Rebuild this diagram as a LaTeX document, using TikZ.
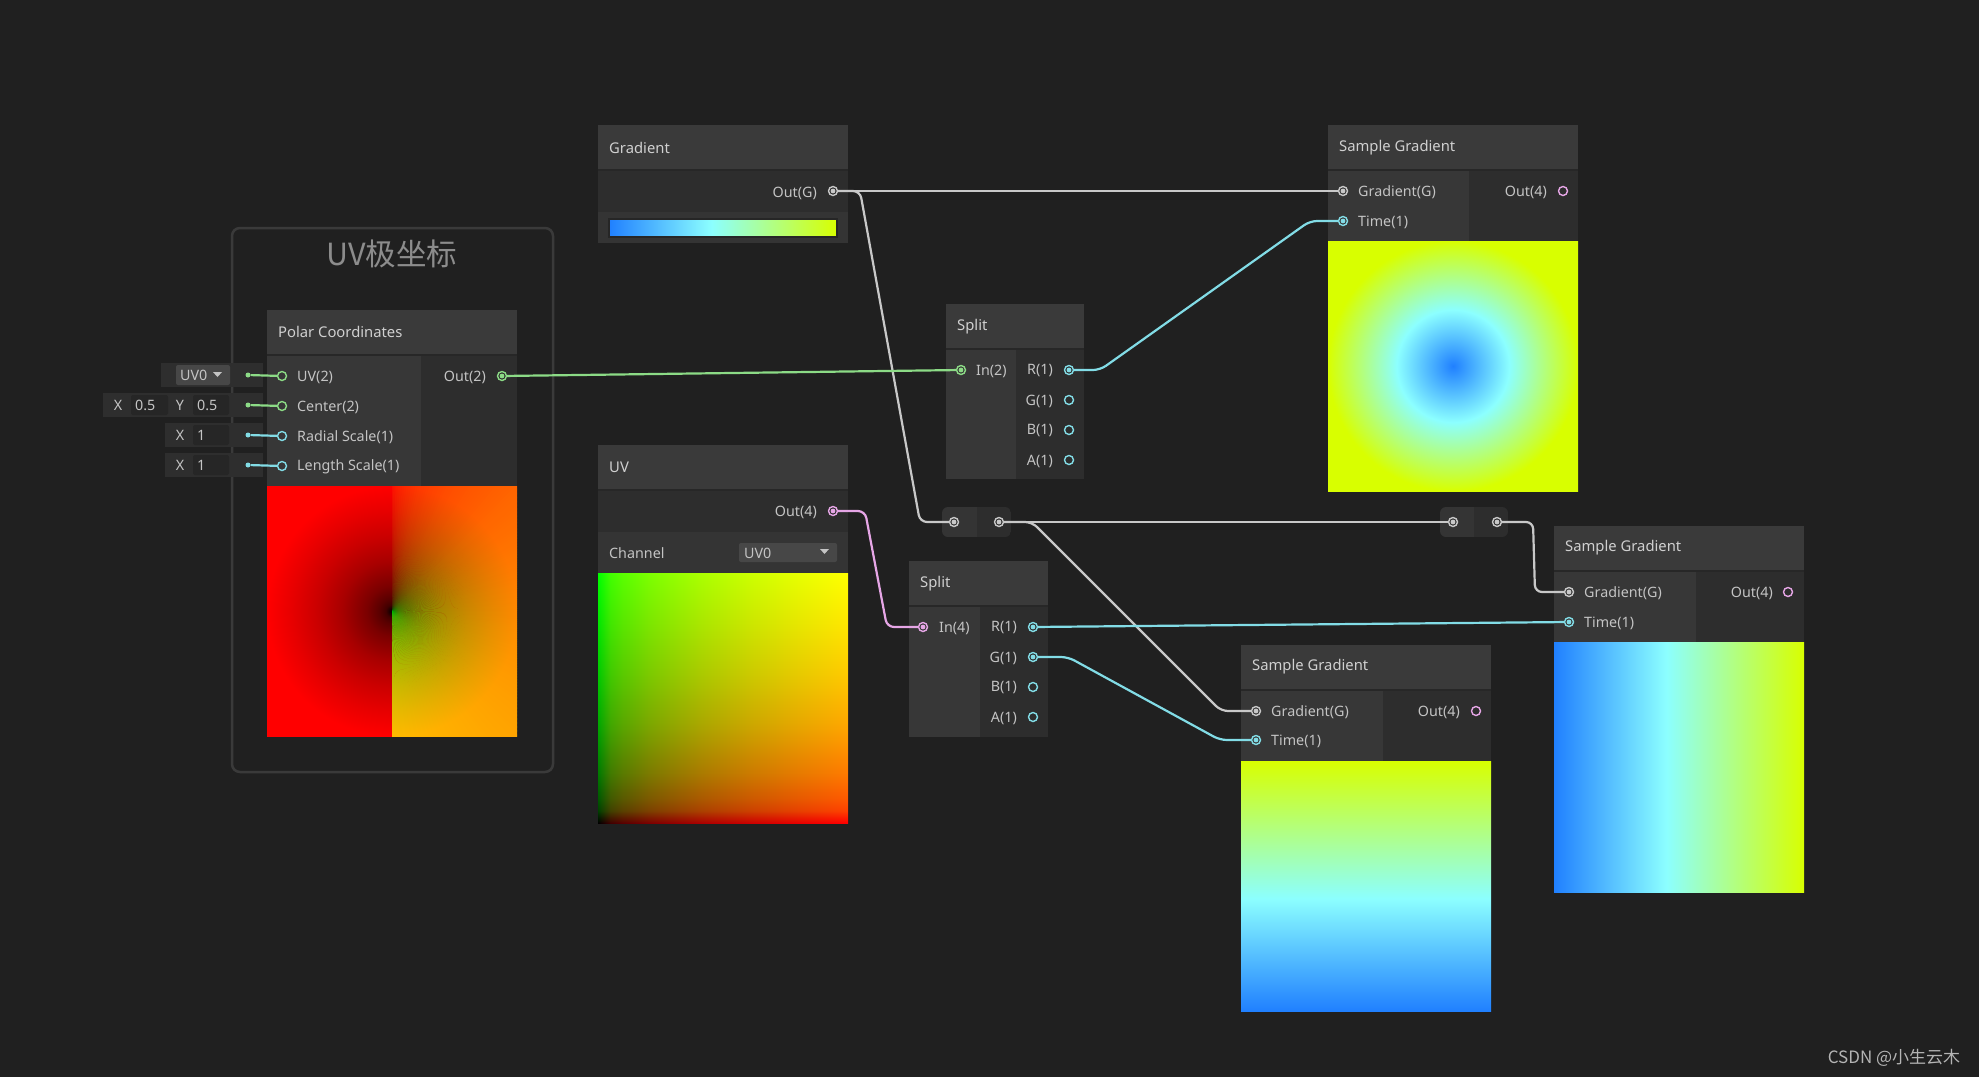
\documentclass[tikz,border=0pt]{standalone}
\usepackage{fontspec}
\setmainfont{Noto Sans}
\newfontfamily\cjk{Noto Sans CJK SC}

\definecolor{cBg}{HTML}{202020}
\definecolor{cHead}{HTML}{3A3A3A}
\definecolor{cIn}{HTML}{373737}
\definecolor{cOut}{HTML}{2D2D2D}
\definecolor{cRow}{HTML}{343434}
\definecolor{cLine}{HTML}{272727}
\definecolor{cTxt}{HTML}{C4C4C4}
\definecolor{cTitle}{HTML}{D0D0D0}
\definecolor{cGroup}{HTML}{3A3A3A}
\definecolor{cGroupT}{HTML}{8C8C8C}
\definecolor{cField}{HTML}{2E2E2E}
\definecolor{cBox}{HTML}{262626}
\definecolor{cDrop}{HTML}{474747}
\definecolor{cWm}{HTML}{B4B4B4}
\definecolor{cGray}{HTML}{C8C8C8}
\definecolor{cGreen}{HTML}{8CDB86}
\definecolor{cCyan}{HTML}{82DCE6}
\definecolor{cPink}{HTML}{E6A6E6}

\pgfdeclarehorizontalshading{gradH}{100bp}{rgb(0bp)=(0.125,0.502,1); rgb(25bp)=(0.125,0.502,1); rgb(47.5bp)=(0.549,1,1); rgb(75bp)=(0.847,1,0); rgb(100bp)=(0.847,1,0)}
\pgfdeclareverticalshading{gradV}{100bp}{rgb(0bp)=(0.125,0.502,1); rgb(25bp)=(0.125,0.502,1); rgb(47.5bp)=(0.549,1,1); rgb(75bp)=(0.847,1,0); rgb(100bp)=(0.847,1,0)}
\pgfdeclareradialshading{gradR}{\pgfpoint{0bp}{0bp}}{rgb(0bp)=(0.125,0.502,1); rgb(11.25bp)=(0.549,1,1); rgb(25bp)=(0.847,1,0); rgb(50bp)=(0.847,1,0)}
\pgfdeclareradialshading{polR}{\pgfpoint{0bp}{0bp}}{rgb(0bp)=(0,0,0); rgb(1.25bp)=(0.256,0,0); rgb(2.5bp)=(0.351,0,0); rgb(5bp)=(0.481,0,0); rgb(10bp)=(0.659,0,0); rgb(15bp)=(0.793,0,0); rgb(20bp)=(0.904,0,0); rgb(25bp)=(1,0,0); rgb(50bp)=(1,0,0)}
\pgfdeclarehorizontalshading{uvR}{100bp}{rgb(0bp)=(0,0,0); rgb(25bp)=(0,0,0); rgb(27.5bp)=(0.256,0,0); rgb(30bp)=(0.351,0,0); rgb(35bp)=(0.481,0,0); rgb(45bp)=(0.659,0,0); rgb(55bp)=(0.793,0,0); rgb(65bp)=(0.904,0,0); rgb(75bp)=(1,0,0); rgb(100bp)=(1,0,0)}
\pgfdeclareverticalshading{uvG}{100bp}{rgb(0bp)=(0,0,0); rgb(25bp)=(0,0,0); rgb(27.5bp)=(0,0.256,0); rgb(30bp)=(0,0.351,0); rgb(35bp)=(0,0.481,0); rgb(45bp)=(0,0.659,0); rgb(55bp)=(0,0.793,0); rgb(65bp)=(0,0.904,0); rgb(75bp)=(0,1,0); rgb(100bp)=(0,1,0)}

\tikzset{
  lbl/.style={text=cTxt, font=\fontsize{14.3}{16}\selectfont, inner sep=0pt},
  ttl/.style={text=cTitle, font=\fontsize{14.8}{17}\selectfont, inner sep=0pt, anchor=west},
  sock/.style={circle, draw=#1, line width=1.4pt, fill=cOut, inner sep=0pt, minimum size=9pt},
  sockon/.style={sock=#1, path picture={\fill[#1] (path picture bounding box.center) circle (2.4pt);}},
  fielddot/.style={circle, fill=#1, inner sep=0pt, minimum size=5pt},
  wire/.style={draw=#1, line width=2.2pt, rounded corners=7pt},
}

\begin{document}
\begin{tikzpicture}[x=1pt, y=-1pt]
\useasboundingbox (0,0) rectangle (1979,1077);
\fill[cBg] (0,0) rectangle (1979,1077);

% group
\draw[cGroup, line width=2.5pt, rounded corners=8pt] (232,228) rectangle (553,772);
\node[text=cGroupT, font=\cjk\fontsize{30.5}{35}\selectfont] (grpTitle) at (392,254) {UV极坐标};

% polar coordinates
\fill[cHead] (267,310) rectangle (517,355);
\fill[cIn] (267,355) rectangle (421,486);
\fill[cOut] (421,355) rectangle (517,486);
\draw[cLine, line width=1.5pt] (267,355) -- (517,355);
\node[ttl] (polTitle) at (278,332) {Polar Coordinates};
\begin{scope}
\clip (267,486) rectangle (517,736);
\shade[shading=polR] (267,486) rectangle (517,736);
\coordinate (polC) at (392,611);
\begin{scope}[blend mode=lighten]
\foreach \i in {0,...,179}{
  \pgfmathsetmacro{\g}{100*((\i+0.5)/360)^0.4545}
  \pgfmathsetmacro{\aa}{max(-90,-90.4+\i)}
  \fill[green!\g!black] (polC) -- +(\aa:300) -- +(-89+\i:300) -- cycle;
}
\end{scope}
\end{scope}

\node[sock=cGreen, fill=cIn] (polUV) at (282,376) {};
\node[sock=cGreen, fill=cIn] (polCen) at (282,406) {};
\node[sock=cCyan, fill=cIn] (polRad) at (282,436) {};
\node[sock=cCyan, fill=cIn] (polLen) at (282,466) {};
\node[lbl, anchor=west] (polUVl) at (297,377) {UV(2)};
\node[lbl, anchor=west] (polCenl) at (297,407) {Center(2)};
\node[lbl, anchor=west] (polRadl) at (297,437) {Radial Scale(1)};
\node[lbl, anchor=west] (polLenl) at (297,467) {Length Scale(1)};
\node[lbl, anchor=east] (polOutl) at (486,377) {Out(2)};
\node[sockon=cGreen] (polOut) at (502,376) {};

% inline fields
\fill[cField] (161,363) rectangle (263,387);
\fill[cDrop, rounded corners=2pt] (176,365) rectangle (230,385);
\node[lbl, anchor=west] (uvDrop) at (180,375) {UV0};
\fill[cTxt] (213,372) -- (222,372) -- (217.5,377) -- cycle;
\node[fielddot=cGreen] (uvDot) at (248,375) {};
\draw[wire=cGreen] (uvDot) -- (polUV);

\fill[cField] (103,393) rectangle (263,417);
\node[lbl] (cenX) at (118,405) {X};
\fill[cBox, rounded corners=2pt] (131,395) rectangle (168,415);
\node[lbl, anchor=west] (cenXv) at (135,405) {0.5};
\node[lbl] (cenY) at (180,405) {Y};
\fill[cBox, rounded corners=2pt] (193,395) rectangle (229,415);
\node[lbl, anchor=west] (cenYv) at (197,405) {0.5};
\node[fielddot=cGreen] (cenDot) at (248,405) {};
\draw[wire=cGreen] (cenDot) -- (polCen);

\fill[cField] (165,423) rectangle (263,447);
\node[lbl] (radX) at (180,435) {X};
\fill[cBox, rounded corners=2pt] (193,425) rectangle (229,445);
\node[lbl, anchor=west] (radXv) at (197,435) {1};
\node[fielddot=cCyan] (radDot) at (248,435) {};
\draw[wire=cCyan] (radDot) -- (polRad);

\fill[cField] (165,453) rectangle (263,477);
\node[lbl] (lenX) at (180,465) {X};
\fill[cBox, rounded corners=2pt] (193,455) rectangle (229,475);
\node[lbl, anchor=west] (lenXv) at (197,465) {1};
\node[fielddot=cCyan] (lenDot) at (248,465) {};
\draw[wire=cCyan] (lenDot) -- (polLen);

% gradient
\fill[cHead] (598,125) rectangle (848,170);
\fill[cOut] (598,170) rectangle (848,212);
\fill[cRow] (598,212) rectangle (848,243);
\draw[cLine, line width=1.5pt] (598,170) -- (848,170);
\node[ttl] (gradTitle) at (609,148) {Gradient};
\node[lbl, anchor=east] (gradOutl) at (817,193) {Out(G)};
\node[sockon=cGray] (gradOut) at (833,191) {};
\shade[shading=gradH] (609,219) rectangle (837,237);
\draw[cBox, line width=1.5pt] (609,219) rectangle (837,237);

% uv
\fill[cHead] (598,445) rectangle (848,490);
\fill[cOut] (598,490) rectangle (848,532);
\fill[cRow] (598,532) rectangle (848,573);
\draw[cLine, line width=1.5pt] (598,490) -- (848,490);
\node[ttl] (uvTitle) at (609,467) {UV};
\node[lbl, anchor=east] (uvOutl) at (817,512) {Out(4)};
\node[sockon=cPink] (uvOut) at (833,511) {};
\node[lbl, anchor=west] (chanl) at (609,553) {Channel};
\fill[cDrop, rounded corners=2pt] (739,543) rectangle (837,562);
\node[lbl, anchor=west] (chanDrop) at (744,553) {UV0};
\fill[cTxt] (820,549) -- (829,549) -- (824.5,554) -- cycle;
\shade[shading=uvR] (598,573) rectangle (848,823);
\begin{scope}[blend mode=lighten]
\shade[shading=uvG] (598,573) rectangle (848,823);
\end{scope}

% split (top)
\fill[cHead] (946,304) rectangle (1084,349);
\fill[cIn] (946,349) rectangle (1016,479);
\fill[cOut] (1016,349) rectangle (1084,479);
\draw[cLine, line width=1.5pt] (946,349) -- (1084,349);
\node[ttl] (sp1Title) at (957,327) {Split};
\node[sockon=cGreen, fill=cIn] (sp1In) at (961,370) {};
\node[lbl, anchor=west] (sp1Inl) at (976,371) {In(2)};
\node[lbl, anchor=east] (sp1Rl) at (1053,371) {R(1)};
\node[lbl, anchor=east] (sp1Gl) at (1053,401) {G(1)};
\node[lbl, anchor=east] (sp1Bl) at (1053,431) {B(1)};
\node[lbl, anchor=east] (sp1Al) at (1053,461) {A(1)};
\node[sockon=cCyan] (sp1R) at (1069,370) {};
\node[sock=cCyan] (sp1G) at (1069,400) {};
\node[sock=cCyan] (sp1B) at (1069,430) {};
\node[sock=cCyan] (sp1A) at (1069,460) {};

% split (bottom)
\fill[cHead] (909,561) rectangle (1048,606);
\fill[cIn] (909,606) rectangle (980,737);
\fill[cOut] (980,606) rectangle (1048,737);
\draw[cLine, line width=1.5pt] (909,606) -- (1048,606);
\node[ttl] (sp2Title) at (920,584) {Split};
\node[sockon=cPink, fill=cIn] (sp2In) at (923,627) {};
\node[lbl, anchor=west] (sp2Inl) at (939,628) {In(4)};
\node[lbl, anchor=east] (sp2Rl) at (1017,628) {R(1)};
\node[lbl, anchor=east] (sp2Gl) at (1017,658) {G(1)};
\node[lbl, anchor=east] (sp2Bl) at (1017,688) {B(1)};
\node[lbl, anchor=east] (sp2Al) at (1017,718) {A(1)};
\node[sockon=cCyan] (sp2R) at (1033,627) {};
\node[sockon=cCyan] (sp2G) at (1033,657) {};
\node[sock=cCyan] (sp2B) at (1033,687) {};
\node[sock=cCyan] (sp2A) at (1033,717) {};

% sample gradient (top)
\fill[cHead] (1328,125) rectangle (1578,170);
\fill[cIn] (1328,170) rectangle (1469,241);
\fill[cOut] (1469,170) rectangle (1578,241);
\draw[cLine, line width=1.5pt] (1328,170) -- (1578,170);
\node[ttl] (sg1Title) at (1339,148) {Sample Gradient};
\node[sockon=cGray, fill=cIn] (sg1Grad) at (1343,191) {};
\node[sockon=cCyan, fill=cIn] (sg1Time) at (1343,221) {};
\node[lbl, anchor=west] (sg1Gradl) at (1358,192) {Gradient(G)};
\node[lbl, anchor=west] (sg1Timel) at (1358,222) {Time(1)};
\node[lbl, anchor=east] (sg1Outl) at (1547,192) {Out(4)};
\node[sock=cPink] (sg1Out) at (1563,191) {};
\shade[shading=gradR] (1328,241) rectangle (1578,491);

% sample gradient (middle)
\fill[cHead] (1241,645) rectangle (1491,690);
\fill[cIn] (1241,690) rectangle (1383,761);
\fill[cOut] (1383,690) rectangle (1491,761);
\draw[cLine, line width=1.5pt] (1241,690) -- (1491,690);
\node[ttl] (sg2Title) at (1252,667) {Sample Gradient};
\node[sockon=cGray, fill=cIn] (sg2Grad) at (1256,711) {};
\node[sockon=cCyan, fill=cIn] (sg2Time) at (1256,740) {};
\node[lbl, anchor=west] (sg2Gradl) at (1271,712) {Gradient(G)};
\node[lbl, anchor=west] (sg2Timel) at (1271,741) {Time(1)};
\node[lbl, anchor=east] (sg2Outl) at (1460,712) {Out(4)};
\node[sock=cPink] (sg2Out) at (1476,711) {};
\shade[shading=gradV] (1241,761) rectangle (1491,1011);

% sample gradient (right)
\fill[cHead] (1554,526) rectangle (1804,571);
\fill[cIn] (1554,571) rectangle (1696,642);
\fill[cOut] (1696,571) rectangle (1804,642);
\draw[cLine, line width=1.5pt] (1554,571) -- (1804,571);
\node[ttl] (sg3Title) at (1565,548) {Sample Gradient};
\node[sockon=cGray, fill=cIn] (sg3Grad) at (1569,592) {};
\node[sockon=cCyan, fill=cIn] (sg3Time) at (1569,622) {};
\node[lbl, anchor=west] (sg3Gradl) at (1584,593) {Gradient(G)};
\node[lbl, anchor=west] (sg3Timel) at (1584,623) {Time(1)};
\node[lbl, anchor=east] (sg3Outl) at (1773,593) {Out(4)};
\node[sock=cPink] (sg3Out) at (1788,592) {};
\shade[shading=gradH] (1554,642) rectangle (1804,892);

% reroutes
\begin{scope}
\clip[rounded corners=6pt] (942,507) rectangle (1011,537);
\fill[cRow] (942,507) rectangle (977,537);
\fill[cOut] (977,507) rectangle (1011,537);
\end{scope}
\node[sockon=cGray, fill=cRow] (rr1In) at (954,522) {};
\node[sockon=cGray] (rr1Out) at (999,522) {};
\begin{scope}
\clip[rounded corners=6pt] (1440,507) rectangle (1508,537);
\fill[cRow] (1440,507) rectangle (1474,537);
\fill[cOut] (1474,507) rectangle (1508,537);
\end{scope}
\node[sockon=cGray, fill=cRow] (rr2In) at (1453,522) {};
\node[sockon=cGray] (rr2Out) at (1497,522) {};

% wires
\draw[wire=cGray] (gradOut) -- (sg1Grad);
\draw[wire=cGray] (gradOut) -- (860,191) -- (920,522) -- (rr1In);
\draw[wire=cGray] (rr1Out) -- (rr2In);
\draw[wire=cGray] (rr1Out) -- (1032,522) -- (1221,711) -- (sg2Grad);
\draw[wire=cGray] (rr2Out) -- (1533,522) -- (1535,592) -- (sg3Grad);
\draw[wire=cGreen] (polOut) -- (sp1In);
\draw[wire=cCyan] (sp1R) -- (1100,370) -- (1310,221) -- (sg1Time);
\draw[wire=cPink] (uvOut) -- (865,511) -- (887,627) -- (sp2In);
\draw[wire=cCyan] (sp2R) -- (sg3Time);
\draw[wire=cCyan] (sp2G) -- (1068,657) -- (1220,740) -- (sg2Time);

\node[text=cWm, font=\cjk\fontsize{17}{20}\selectfont] (wm) at (1894,1058) {CSDN @小生云木};
\end{tikzpicture}
\end{document}
